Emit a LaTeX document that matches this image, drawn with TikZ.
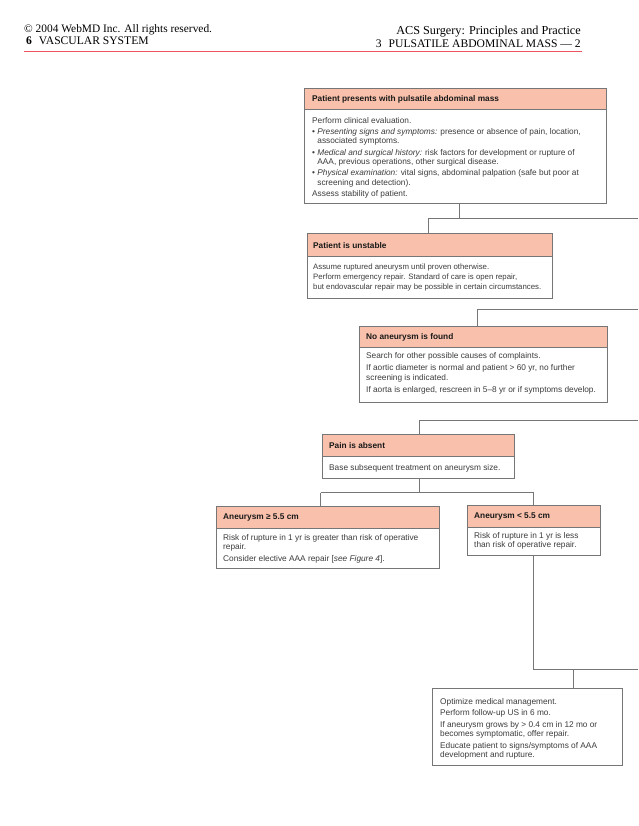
\documentclass[tikz,border=0pt]{standalone}
\usepackage{fontspec}
\setmainfont{Liberation Serif}
\newfontfamily\arialf{Liberation Sans}
\usetikzlibrary{calc}
\definecolor{hdrfill}{RGB}{249,193,172}
\definecolor{linegray}{RGB}{118,118,118}
\definecolor{bodytxt}{RGB}{60,60,60}
\definecolor{hdrtxt}{RGB}{25,25,25}
\definecolor{rulered}{RGB}{238,82,92}
\tikzset{
 frame/.style={draw=linegray, line width=0.9pt, fill=white, inner sep=0pt, anchor=north west},
 hband/.style={draw=linegray, line width=0.9pt, fill=hdrfill, inner sep=0pt, anchor=north west},
 htext/.style={anchor=base west, inner sep=0pt, font=\arialf\bfseries\fontsize{8.3}{10}\selectfont, text=hdrtxt},
 btext/.style={anchor=north west, inner sep=0pt, align=left, font=\arialf\fontsize{8.3}{9.3}\selectfont, text=bodytxt},
 conn/.style={draw=linegray, line width=0.9pt},
 toptext/.style={inner sep=0pt, text=black}
}
\newcommand{\bul}{•\ }
\newcommand{\hang}{\hphantom{•\ }}
\begin{document}
\begin{tikzpicture}[x=1pt,y=-1pt]
\fill[white] (0,0) rectangle (638,826);
\useasboundingbox (0,0) rectangle (638,826);

% page header
\node[toptext, anchor=base west, font=\fontsize{11.4}{13}\selectfont] (copy) at (24,32.5) {© 2004 WebMD Inc. All rights reserved.};
\node[toptext, anchor=base west, font=\fontsize{11.6}{13}\selectfont] (sect) at (26,45) {\textbf{6}\hspace{7pt}VASCULAR SYSTEM};
\node[toptext, anchor=base east, font=\fontsize{12.2}{13}\selectfont] (book) at (581,35) {ACS Surgery: Principles and Practice};
\node[toptext, anchor=base east, font=\fontsize{11.6}{13}\selectfont] (chap) at (581,48) {3\hspace{7pt}PULSATILE ABDOMINAL MASS — 2};
\coordinate (rl) at (24,52);
\coordinate (rr) at (582,52);
\draw[rulered, line width=1pt] (rl) -- (rr);

% box 1
\node[frame, minimum width=302pt, minimum height=115pt] (b1) at (304,88) {};
\node[hband, minimum width=302pt, minimum height=21pt] (b1h) at (b1.north west) {};
\node[htext] (b1ht) at (312,101.5) {Patient presents with pulsatile abdominal mass};
\node[btext] (b1bt) at (312,117) {Perform clinical evaluation.\\[2pt]
\bul\textit{Presenting signs and symptoms:} presence or absence of pain, location,\\
\hang associated symptoms.\\[2pt]
\bul\textit{Medical and surgical history:} risk factors for development or rupture of\\
\hang AAA, previous operations, other surgical disease.\\[2pt]
\bul\textit{Physical examination:} vital signs, abdominal palpation (safe but poor at\\
\hang screening and detection).\\[2pt]
Assess stability of patient.};

% box 2
\node[frame, minimum width=245pt, minimum height=65pt] (b2) at (307,233) {};
\node[hband, minimum width=245pt, minimum height=22.5pt] (b2h) at (b2.north west) {};
\node[htext] (b2ht) at (313,248.3) {Patient is unstable};
\node[btext, font=\arialf\fontsize{7.8}{10}\selectfont] (b2bt) at (313,263.5) {Assume ruptured aneurysm until proven otherwise.\\[0.5pt]
Perform emergency repair. Standard of care is open repair,\\
but endovascular repair may be possible in certain circumstances.};

% box 3
\node[frame, minimum width=248pt, minimum height=76pt] (b3) at (359,326) {};
\node[hband, minimum width=248pt, minimum height=21pt] (b3h) at (b3.north west) {};
\node[htext] (b3ht) at (366,339.5) {No aneurysm is found};
\node[btext, font=\arialf\fontsize{8.3}{9.6}\selectfont] (b3bt) at (366,352.2) {Search for other possible causes of complaints.\\[2.4pt]
If aortic diameter is normal and patient > 60 yr, no further\\
screening is indicated.\\[2.4pt]
If aorta is enlarged, rescreen in 5–8 yr or if symptoms develop.};

% box 4
\node[frame, minimum width=192pt, minimum height=44pt] (b4) at (322,434) {};
\node[hband, minimum width=192pt, minimum height=22pt] (b4h) at (b4.north west) {};
\node[htext] (b4ht) at (329,448.5) {Pain is absent};
\node[btext] (b4bt) at (329,464.2) {Base subsequent treatment on aneurysm size.};

% box 5
\node[frame, minimum width=223pt, minimum height=62pt] (b5) at (216,506) {};
\node[hband, minimum width=223pt, minimum height=21.5pt] (b5h) at (b5.north west) {};
\node[htext] (b5ht) at (223,519.5) {Aneurysm ≥ 5.5 cm};
\node[btext] (b5bt) at (223,534.2) {Risk of rupture in 1 yr is greater than risk of operative\\
repair.\\[2pt]
Consider elective AAA repair [\textit{see Figure 4}].};

% box 6
\node[frame, minimum width=133pt, minimum height=50pt] (b6) at (467,505) {};
\node[hband, minimum width=133pt, minimum height=22pt] (b6h) at (b6.north west) {};
\node[htext] (b6ht) at (474,518.5) {Aneurysm < 5.5 cm};
\node[btext] (b6bt) at (474,532.2) {Risk of rupture in 1 yr is less\\
than risk of operative repair.};

% box 7
\node[frame, minimum width=190pt, minimum height=77pt] (b7) at (432,688) {};
\node[btext] (b7bt) at (440,698) {Optimize medical management.\\[2.2pt]
Perform follow-up US in 6 mo.\\[2.2pt]
If aneurysm grows by > 0.4 cm in 12 mo or\\
becomes symptomatic, offer repair.\\[2.2pt]
Educate patient to signs/symptoms of AAA\\
development and rupture.};

% connectors
\coordinate (j1) at (459,218);
\coordinate (j1l) at (428,218);
\coordinate (e1) at (638,218);
\draw[conn] (b1.south -| j1) -- (j1);
\draw[conn] (j1l) -- (e1);
\draw[conn] (j1l) -- (j1l |- b2.north);

\coordinate (j2) at (477.5,309.5);
\coordinate (e2) at (638,309.5);
\draw[conn] (e2) -- (j2) -- (j2 |- b3.north);

\coordinate (j3) at (419,420);
\coordinate (e3) at (638,420);
\draw[conn] (e3) -- (j3) -- (j3 |- b4.north);

\coordinate (j4) at (419,492.5);
\coordinate (j4l) at (320.5,492.5);
\coordinate (j4r) at (533.5,492.5);
\draw[conn] (b4.south -| j4) -- (j4);
\draw[conn] (j4l) -- (j4r);
\draw[conn] (j4l) -- (j4l |- b5.north);
\draw[conn] (j4r) -- (j4r |- b6.north);

\coordinate (j5) at (533.5,669);
\coordinate (j5b) at (573,669);
\coordinate (e5) at (638,669);
\draw[conn] (b6.south -| j5) -- (j5) -- (e5);
\draw[conn] (j5b) -- (j5b |- b7.north);
\end{tikzpicture}
\end{document}
